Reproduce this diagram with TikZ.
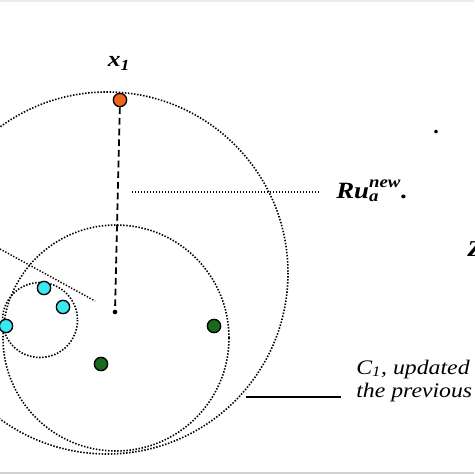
\documentclass[tikz,border=0pt]{standalone}
\usepackage{fontspec}
\setmainfont{Liberation Serif}
\usepackage{tikz}
\usetikzlibrary{shapes,arrows}

\definecolor{ptorange}{RGB}{240,100,30}
\definecolor{ptcyan}{RGB}{60,232,240}
\definecolor{ptgreen}{RGB}{25,105,30}

\newcommand{\widetext}[1]{\scalebox{1.15}[1]{#1}}

\tikzset{
  ring/.style={line width=1.2pt, dash pattern={on 1.1pt off 1.2pt}},
  guide/.style={line width=1.1pt, dash pattern={on 1pt off 1.25pt}},
  pt/.style={circle, draw=black, line width=1pt, minimum size=10pt, inner sep=0pt},
  lbl/.style={inner sep=0pt, font=\fontsize{15.5}{21}\selectfont\itshape}
}

\begin{document}
\begin{tikzpicture}[x=0.75pt,y=0.75pt,yscale=-1,xscale=1]
\useasboundingbox (0,0) rectangle (474,474);
\fill[white] (0,0) rectangle (474,474);
%Shape: border strips
\fill[gray!15] (0,0) rectangle (474,2);
\fill[gray!35] (0,472) rectangle (474,474);

%Shape: Circle, outer
\draw[ring] (107,273) circle (181);
%Shape: Circle, updated
\draw[ring] (116,338) circle (113);
%Shape: Circle, small
\draw[ring] (40,320) circle (37.5);

%Points
\node[pt, fill=ptorange] (x1) at (120,100) {};
\node[circle, fill=black, inner sep=0pt, minimum size=3.5pt] (ctr) at (115,312) {};
\node[pt, fill=ptcyan] (c1) at (44,288) {};
\node[pt, fill=ptcyan] (c2) at (63,307) {};
\node[pt, fill=ptcyan] (c3) at (6,326) {};
\node[pt, fill=ptgreen] (g1) at (214,326) {};
\node[pt, fill=ptgreen] (g2) at (101,364) {};

%Straight Lines, radius
\draw[line width=1.4pt, dash pattern={on 5pt off 3pt}] (x1) -- (ctr);

% Text Node
\node[lbl, anchor=base, font=\fontsize{16.5}{18}\selectfont\bfseries\itshape] (xlab) at (119,67) {\widetext{x\textsubscript{1}}};
% Text Node
\node[lbl, anchor=base west, font=\fontsize{17.5}{20}\selectfont\bfseries\itshape] (ru) at (336,198)
  {\widetext{Ru\rlap{\textsubscript{a}}\raisebox{1.5pt}{\textsuperscript{new}}.}};
% Text Node
\node[lbl, anchor=base, font=\fontsize{16.5}{20}\selectfont\bfseries] (dot) at (436,133) {.};
% Text Node
\node[lbl, anchor=base west, font=\fontsize{17}{20}\selectfont\bfseries\itshape] (zz) at (467,256) {\widetext{Z}};
% Text Node
\node[lbl, anchor=base west] (clab) at (356,374)
  {\widetext{C\textsubscript{1}, updated from}};
\node[lbl, anchor=base west] (clab2) at (356,397)
  {\widetext{the previous}};

%Straight Lines, leaders
\coordinate (rs) at (132,192);
\coordinate (re) at (320,192);
\draw[guide] (rs) -- (re);
\coordinate (ds) at (0,249);
\coordinate (de) at (95,301);
\draw[guide] (ds) -- (de);
\coordinate (cs) at (246,397);
\coordinate (ce) at (341,397);
\draw[line width=1.4pt] (cs) -- (ce);

\end{tikzpicture}
\end{document}
